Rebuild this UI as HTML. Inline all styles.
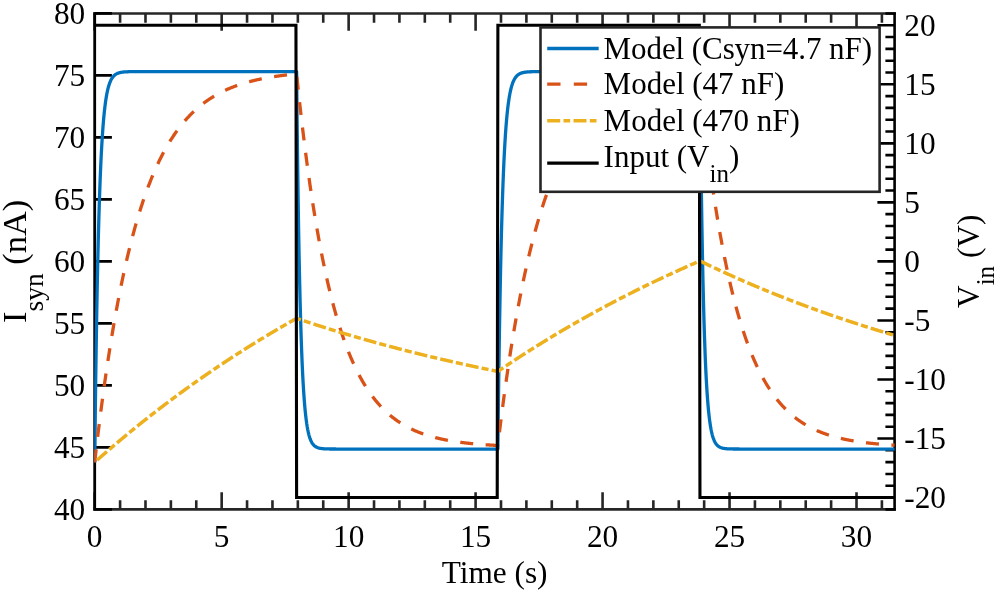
<!DOCTYPE html><html><head><meta charset="utf-8"><title>plot</title><style>html,body{margin:0;padding:0;background:#fff}svg{display:block}text{font-family:"Liberation Serif",serif;fill:#000}</style></head><body>
<svg width="996" height="591" viewBox="0 0 996 591">
<rect width="996" height="591" fill="#fff"/>
<defs><clipPath id="c"><rect x="94.20" y="12.45" width="800.90" height="497.90"/></clipPath></defs>
<g stroke="#262626" stroke-width="2.60" fill="none" stroke-linecap="butt">
<path d="M93.40 509.35 H895.90 M93.40 13.45 H895.90"/>
<path d="M94.70 509.35v-17.20 M94.70 13.45v17.20M120.09 509.35v-9.20 M120.09 13.45v9.20M145.49 509.35v-9.20 M145.49 13.45v9.20M170.88 509.35v-9.20 M170.88 13.45v9.20M196.27 509.35v-9.20 M196.27 13.45v9.20M221.67 509.35v-17.20 M221.67 13.45v17.20M247.06 509.35v-9.20 M247.06 13.45v9.20M272.46 509.35v-9.20 M272.46 13.45v9.20M297.85 509.35v-9.20 M297.85 13.45v9.20M323.24 509.35v-9.20 M323.24 13.45v9.20M348.64 509.35v-17.20 M348.64 13.45v17.20M374.03 509.35v-9.20 M374.03 13.45v9.20M399.42 509.35v-9.20 M399.42 13.45v9.20M424.82 509.35v-9.20 M424.82 13.45v9.20M450.21 509.35v-9.20 M450.21 13.45v9.20M475.60 509.35v-17.20 M475.60 13.45v17.20M501.00 509.35v-9.20 M501.00 13.45v9.20M526.39 509.35v-9.20 M526.39 13.45v9.20M551.79 509.35v-9.20 M551.79 13.45v9.20M577.18 509.35v-9.20 M577.18 13.45v9.20M602.57 509.35v-17.20 M602.57 13.45v17.20M627.97 509.35v-9.20 M627.97 13.45v9.20M653.36 509.35v-9.20 M653.36 13.45v9.20M678.75 509.35v-9.20 M678.75 13.45v9.20M704.15 509.35v-9.20 M704.15 13.45v9.20M729.54 509.35v-17.20 M729.54 13.45v17.20M754.93 509.35v-9.20 M754.93 13.45v9.20M780.33 509.35v-9.20 M780.33 13.45v9.20M805.72 509.35v-9.20 M805.72 13.45v9.20M831.12 509.35v-9.20 M831.12 13.45v9.20M856.51 509.35v-17.20 M856.51 13.45v17.20M881.90 509.35v-9.20 M881.90 13.45v9.20"/>
</g>
<g stroke="#000" stroke-width="2.80" fill="none">
<path d="M94.70 12.15V510.65M94.70 509.35h17.20M94.70 447.36h17.20M94.70 385.38h17.20M94.70 323.39h17.20M94.70 261.40h17.20M94.70 199.41h17.20M94.70 137.42h17.20M94.70 75.44h17.20M94.70 13.45h17.20"/>
</g>
<g stroke="#000" stroke-width="2.60" fill="none">
<path d="M894.60 12.15V510.65M894.60 509.35h-9.20M894.60 497.54h-17.20M894.60 485.74h-9.20M894.60 473.93h-9.20M894.60 462.12h-9.20M894.60 450.31h-9.20M894.60 438.51h-17.20M894.60 426.70h-9.20M894.60 414.89h-9.20M894.60 403.09h-9.20M894.60 391.28h-9.20M894.60 379.47h-17.20M894.60 367.66h-9.20M894.60 355.86h-9.20M894.60 344.05h-9.20M894.60 332.24h-9.20M894.60 320.44h-17.20M894.60 308.63h-9.20M894.60 296.82h-9.20M894.60 285.01h-9.20M894.60 273.21h-9.20M894.60 261.40h-17.20M894.60 249.59h-9.20M894.60 237.79h-9.20M894.60 225.98h-9.20M894.60 214.17h-9.20M894.60 202.36h-17.20M894.60 190.56h-9.20M894.60 178.75h-9.20M894.60 166.94h-9.20M894.60 155.14h-9.20M894.60 143.33h-17.20M894.60 131.52h-9.20M894.60 119.71h-9.20M894.60 107.91h-9.20M894.60 96.10h-9.20M894.60 84.29h-17.20M894.60 72.49h-9.20M894.60 60.68h-9.20M894.60 48.87h-9.20M894.60 37.06h-9.20M894.60 25.26h-17.20M894.60 13.45h-9.20"/>
</g>
<g clip-path="url(#c)" fill="none" stroke-linejoin="round">
<path d="M94.70 462.24L95.21 418.10L95.72 378.94L96.23 344.21L96.73 313.40L97.24 286.08L97.75 261.84L98.26 240.34L98.77 221.28L99.28 204.36L99.79 189.36L100.29 176.05L100.80 164.25L101.31 153.78L101.82 144.49L102.33 136.25L102.84 128.95L103.34 122.47L103.85 116.72L104.36 111.62L104.87 107.10L105.38 103.08L105.89 99.53L106.40 96.37L106.90 93.57L107.41 91.09L107.92 88.88L108.43 86.93L108.94 85.20L109.45 83.66L109.96 82.30L110.46 81.09L110.97 80.01L111.48 79.06L111.99 78.22L112.50 77.47L113.01 76.81L113.51 76.22L114.02 75.70L114.53 75.23L115.04 74.82L115.55 74.46L116.06 74.13L116.57 73.85L117.07 73.59L117.58 73.37L118.09 73.17L118.60 72.99L119.11 72.83L119.62 72.69L120.13 72.57L120.63 72.46L121.14 72.36L121.65 72.27L122.16 72.20L122.67 72.13L123.18 72.07L123.69 72.01L124.19 71.97L124.70 71.92L125.21 71.89L125.72 71.85L126.23 71.82L126.74 71.80L127.24 71.78L127.75 71.76L128.26 71.74L128.77 71.72L129.28 71.71L129.79 71.69L130.30 71.68L130.80 71.67L131.31 71.66L131.82 71.66L132.33 71.65L132.84 71.64L133.35 71.64L133.86 71.63L134.36 71.63L134.87 71.62L135.38 71.62L135.89 71.62L136.40 71.62L136.91 71.61L137.42 71.61L137.92 71.61L138.43 71.61L138.94 71.61L139.45 71.60L139.96 71.60L140.47 71.60L140.97 71.60L141.48 71.60L141.99 71.60L142.50 71.60L143.01 71.60L143.52 71.60L144.03 71.60L144.53 71.60L145.04 71.60L145.55 71.60L146.06 71.60L146.57 71.60L147.08 71.60L147.59 71.60L148.09 71.60L148.60 71.60L149.11 71.60L149.62 71.60L150.13 71.60L150.64 71.60L151.14 71.59L151.65 71.59L152.16 71.59L152.67 71.59L153.18 71.59L153.69 71.59L154.20 71.59L154.70 71.59L155.21 71.59L155.72 71.59L156.23 71.59L156.74 71.59L157.25 71.59L157.76 71.59L158.26 71.59L158.77 71.59L159.28 71.59L159.79 71.59L160.30 71.59L160.81 71.59L161.32 71.59L161.82 71.59L162.33 71.59L162.84 71.59L163.35 71.59L163.86 71.59L164.37 71.59L164.87 71.59L165.38 71.59L165.89 71.59L166.40 71.59L166.91 71.59L167.42 71.59L167.93 71.59L168.43 71.59L168.94 71.59L169.45 71.59L169.96 71.59L170.47 71.59L170.98 71.59L171.49 71.59L171.99 71.59L172.50 71.59L173.01 71.59L173.52 71.59L174.03 71.59L174.54 71.59L175.04 71.59L175.55 71.59L176.06 71.59L176.57 71.59L177.08 71.59L177.59 71.59L178.10 71.59L178.60 71.59L179.11 71.59L179.62 71.59L180.13 71.59L180.64 71.59L181.15 71.59L181.66 71.59L182.16 71.59L182.67 71.59L183.18 71.59L183.69 71.59L184.20 71.59L184.71 71.59L185.22 71.59L185.72 71.59L186.23 71.59L186.74 71.59L187.25 71.59L187.76 71.59L188.27 71.59L188.77 71.59L189.28 71.59L189.79 71.59L190.30 71.59L190.81 71.59L191.32 71.59L191.83 71.59L192.33 71.59L192.84 71.59L193.35 71.59L193.86 71.59L194.37 71.59L194.88 71.59L195.39 71.59L195.89 71.59L196.40 71.59L196.91 71.59L197.42 71.59L197.93 71.59L198.44 71.59L198.95 71.59L199.45 71.59L199.96 71.59L200.47 71.59L200.98 71.59L201.49 71.59L202.00 71.59L202.50 71.59L203.01 71.59L203.52 71.59L204.03 71.59L204.54 71.59L205.05 71.59L205.56 71.59L206.06 71.59L206.57 71.59L207.08 71.59L207.59 71.59L208.10 71.59L208.61 71.59L209.12 71.59L209.62 71.59L210.13 71.59L210.64 71.59L211.15 71.59L211.66 71.59L212.17 71.59L212.67 71.59L213.18 71.59L213.69 71.59L214.20 71.59L214.71 71.59L215.22 71.59L215.73 71.59L216.23 71.59L216.74 71.59L217.25 71.59L217.76 71.59L218.27 71.59L218.78 71.59L219.29 71.59L219.79 71.59L220.30 71.59L220.81 71.59L221.32 71.59L221.83 71.59L222.34 71.59L222.85 71.59L223.35 71.59L223.86 71.59L224.37 71.59L224.88 71.59L225.39 71.59L225.90 71.59L226.40 71.59L226.91 71.59L227.42 71.59L227.93 71.59L228.44 71.59L228.95 71.59L229.46 71.59L229.96 71.59L230.47 71.59L230.98 71.59L231.49 71.59L232.00 71.59L232.51 71.59L233.02 71.59L233.52 71.59L234.03 71.59L234.54 71.59L235.05 71.59L235.56 71.59L236.07 71.59L236.58 71.59L237.08 71.59L237.59 71.59L238.10 71.59L238.61 71.59L239.12 71.59L239.63 71.59L240.13 71.59L240.64 71.59L241.15 71.59L241.66 71.59L242.17 71.59L242.68 71.59L243.19 71.59L243.69 71.59L244.20 71.59L244.71 71.59L245.22 71.59L245.73 71.59L246.24 71.59L246.75 71.59L247.25 71.59L247.76 71.59L248.27 71.59L248.78 71.59L249.29 71.59L249.80 71.59L250.30 71.59L250.81 71.59L251.32 71.59L251.83 71.59L252.34 71.59L252.85 71.59L253.36 71.59L253.86 71.59L254.37 71.59L254.88 71.59L255.39 71.59L255.90 71.59L256.41 71.59L256.92 71.59L257.42 71.59L257.93 71.59L258.44 71.59L258.95 71.59L259.46 71.59L259.97 71.59L260.48 71.59L260.98 71.59L261.49 71.59L262.00 71.59L262.51 71.59L263.02 71.59L263.53 71.59L264.03 71.59L264.54 71.59L265.05 71.59L265.56 71.59L266.07 71.59L266.58 71.59L267.09 71.59L267.59 71.59L268.10 71.59L268.61 71.59L269.12 71.59L269.63 71.59L270.14 71.59L270.65 71.59L271.15 71.59L271.66 71.59L272.17 71.59L272.68 71.59L273.19 71.59L273.70 71.59L274.20 71.59L274.71 71.59L275.22 71.59L275.73 71.59L276.24 71.59L276.75 71.59L277.26 71.59L277.76 71.59L278.27 71.59L278.78 71.59L279.29 71.59L279.80 71.59L280.31 71.59L280.82 71.59L281.32 71.59L281.83 71.59L282.34 71.59L282.85 71.59L283.36 71.59L283.87 71.59L284.38 71.59L284.88 71.59L285.39 71.59L285.90 71.59L286.41 71.59L286.92 71.59L287.43 71.59L287.93 71.59L288.44 71.59L288.95 71.59L289.46 71.59L289.97 71.59L290.48 71.59L290.99 71.59L291.49 71.59L292.00 71.59L292.51 71.59L293.02 71.59L293.53 71.59L294.04 71.59L294.55 71.59L295.05 71.59L295.56 71.59L296.07 71.59L296.58 71.59L296.58 71.59L297.09 119.34L297.60 161.04L298.10 197.47L298.61 229.29L299.12 257.09L299.63 281.37L300.14 302.58L300.65 321.10L301.15 337.28L301.66 351.42L302.17 363.77L302.68 374.55L303.19 383.97L303.70 392.20L304.20 399.39L304.71 405.67L305.22 411.16L305.73 415.95L306.24 420.13L306.74 423.79L307.25 426.98L307.76 429.77L308.27 432.21L308.78 434.34L309.29 436.20L309.79 437.82L310.30 439.24L310.81 440.48L311.32 441.56L311.83 442.51L312.34 443.33L312.84 444.05L313.35 444.68L313.86 445.23L314.37 445.72L314.88 446.14L315.39 446.50L315.89 446.82L316.40 447.10L316.91 447.35L317.42 447.56L317.93 447.75L318.43 447.91L318.94 448.05L319.45 448.18L319.96 448.29L320.47 448.38L320.98 448.46L321.48 448.54L321.99 448.60L322.50 448.65L323.01 448.70L323.52 448.75L324.03 448.78L324.53 448.81L325.04 448.84L325.55 448.87L326.06 448.89L326.57 448.91L327.07 448.92L327.58 448.94L328.09 448.95L328.60 448.96L329.11 448.97L329.62 448.98L330.12 448.99L330.63 448.99L331.14 449.00L331.65 449.00L332.16 449.01L332.67 449.01L333.17 449.01L333.68 449.02L334.19 449.02L334.70 449.02L335.21 449.02L335.72 449.02L336.22 449.03L336.73 449.03L337.24 449.03L337.75 449.03L338.26 449.03L338.76 449.03L339.27 449.03L339.78 449.03L340.29 449.03L340.80 449.03L341.31 449.03L341.81 449.03L342.32 449.03L342.83 449.03L343.34 449.03L343.85 449.03L344.36 449.04L344.86 449.04L345.37 449.04L345.88 449.04L346.39 449.04L346.90 449.04L347.41 449.04L347.91 449.04L348.42 449.04L348.93 449.04L349.44 449.04L349.95 449.04L350.45 449.04L350.96 449.04L351.47 449.04L351.98 449.04L352.49 449.04L353.00 449.04L353.50 449.04L354.01 449.04L354.52 449.04L355.03 449.04L355.54 449.04L356.05 449.04L356.55 449.04L357.06 449.04L357.57 449.04L358.08 449.04L358.59 449.04L359.10 449.04L359.60 449.04L360.11 449.04L360.62 449.04L361.13 449.04L361.64 449.04L362.14 449.04L362.65 449.04L363.16 449.04L363.67 449.04L364.18 449.04L364.69 449.04L365.19 449.04L365.70 449.04L366.21 449.04L366.72 449.04L367.23 449.04L367.74 449.04L368.24 449.04L368.75 449.04L369.26 449.04L369.77 449.04L370.28 449.04L370.79 449.04L371.29 449.04L371.80 449.04L372.31 449.04L372.82 449.04L373.33 449.04L373.83 449.04L374.34 449.04L374.85 449.04L375.36 449.04L375.87 449.04L376.38 449.04L376.88 449.04L377.39 449.04L377.90 449.04L378.41 449.04L378.92 449.04L379.43 449.04L379.93 449.04L380.44 449.04L380.95 449.04L381.46 449.04L381.97 449.04L382.48 449.04L382.98 449.04L383.49 449.04L384.00 449.04L384.51 449.04L385.02 449.04L385.52 449.04L386.03 449.04L386.54 449.04L387.05 449.04L387.56 449.04L388.07 449.04L388.57 449.04L389.08 449.04L389.59 449.04L390.10 449.04L390.61 449.04L391.12 449.04L391.62 449.04L392.13 449.04L392.64 449.04L393.15 449.04L393.66 449.04L394.17 449.04L394.67 449.04L395.18 449.04L395.69 449.04L396.20 449.04L396.71 449.04L397.21 449.04L397.72 449.04L398.23 449.04L398.74 449.04L399.25 449.04L399.76 449.04L400.26 449.04L400.77 449.04L401.28 449.04L401.79 449.04L402.30 449.04L402.81 449.04L403.31 449.04L403.82 449.04L404.33 449.04L404.84 449.04L405.35 449.04L405.85 449.04L406.36 449.04L406.87 449.04L407.38 449.04L407.89 449.04L408.40 449.04L408.90 449.04L409.41 449.04L409.92 449.04L410.43 449.04L410.94 449.04L411.45 449.04L411.95 449.04L412.46 449.04L412.97 449.04L413.48 449.04L413.99 449.04L414.50 449.04L415.00 449.04L415.51 449.04L416.02 449.04L416.53 449.04L417.04 449.04L417.54 449.04L418.05 449.04L418.56 449.04L419.07 449.04L419.58 449.04L420.09 449.04L420.59 449.04L421.10 449.04L421.61 449.04L422.12 449.04L422.63 449.04L423.14 449.04L423.64 449.04L424.15 449.04L424.66 449.04L425.17 449.04L425.68 449.04L426.19 449.04L426.69 449.04L427.20 449.04L427.71 449.04L428.22 449.04L428.73 449.04L429.23 449.04L429.74 449.04L430.25 449.04L430.76 449.04L431.27 449.04L431.78 449.04L432.28 449.04L432.79 449.04L433.30 449.04L433.81 449.04L434.32 449.04L434.83 449.04L435.33 449.04L435.84 449.04L436.35 449.04L436.86 449.04L437.37 449.04L437.88 449.04L438.38 449.04L438.89 449.04L439.40 449.04L439.91 449.04L440.42 449.04L440.92 449.04L441.43 449.04L441.94 449.04L442.45 449.04L442.96 449.04L443.47 449.04L443.97 449.04L444.48 449.04L444.99 449.04L445.50 449.04L446.01 449.04L446.52 449.04L447.02 449.04L447.53 449.04L448.04 449.04L448.55 449.04L449.06 449.04L449.57 449.04L450.07 449.04L450.58 449.04L451.09 449.04L451.60 449.04L452.11 449.04L452.61 449.04L453.12 449.04L453.63 449.04L454.14 449.04L454.65 449.04L455.16 449.04L455.66 449.04L456.17 449.04L456.68 449.04L457.19 449.04L457.70 449.04L458.21 449.04L458.71 449.04L459.22 449.04L459.73 449.04L460.24 449.04L460.75 449.04L461.26 449.04L461.76 449.04L462.27 449.04L462.78 449.04L463.29 449.04L463.80 449.04L464.30 449.04L464.81 449.04L465.32 449.04L465.83 449.04L466.34 449.04L466.85 449.04L467.35 449.04L467.86 449.04L468.37 449.04L468.88 449.04L469.39 449.04L469.90 449.04L470.40 449.04L470.91 449.04L471.42 449.04L471.93 449.04L472.44 449.04L472.94 449.04L473.45 449.04L473.96 449.04L474.47 449.04L474.98 449.04L475.49 449.04L475.99 449.04L476.50 449.04L477.01 449.04L477.52 449.04L478.03 449.04L478.54 449.04L479.04 449.04L479.55 449.04L480.06 449.04L480.57 449.04L481.08 449.04L481.59 449.04L482.09 449.04L482.60 449.04L483.11 449.04L483.62 449.04L484.13 449.04L484.63 449.04L485.14 449.04L485.65 449.04L486.16 449.04L486.67 449.04L487.18 449.04L487.68 449.04L488.19 449.04L488.70 449.04L489.21 449.04L489.72 449.04L490.23 449.04L490.73 449.04L491.24 449.04L491.75 449.04L492.26 449.04L492.77 449.04L493.28 449.04L493.78 449.04L494.29 449.04L494.80 449.04L495.31 449.04L495.82 449.04L496.32 449.04L496.83 449.04L497.34 449.04L497.85 449.04L497.85 449.04L498.36 406.34L498.87 368.48L499.38 334.90L499.89 305.12L500.39 278.71L500.90 255.28L501.41 234.50L501.92 216.08L502.43 199.73L502.94 185.24L503.45 172.39L503.96 160.99L504.47 150.88L504.98 141.91L505.48 133.96L505.99 126.90L506.50 120.65L507.01 115.10L507.52 110.18L508.03 105.81L508.54 101.94L509.05 98.51L509.56 95.47L510.07 92.77L510.58 90.37L511.08 88.25L511.59 86.36L512.10 84.69L512.61 83.21L513.12 81.90L513.63 80.73L514.14 79.70L514.65 78.78L515.16 77.97L515.67 77.25L516.17 76.61L516.68 76.04L517.19 75.54L517.70 75.09L518.21 74.70L518.72 74.35L519.23 74.03L519.74 73.76L520.25 73.51L520.76 73.30L521.26 73.10L521.77 72.93L522.28 72.78L522.79 72.65L523.30 72.53L523.81 72.42L524.32 72.33L524.83 72.25L525.34 72.17L525.85 72.11L526.35 72.05L526.86 72.00L527.37 71.95L527.88 71.91L528.39 71.88L528.90 71.84L529.41 71.82L529.92 71.79L530.43 71.77L530.94 71.75L531.45 71.73L531.95 71.72L532.46 71.70L532.97 71.69L533.48 71.68L533.99 71.67L534.50 71.66L535.01 71.65L535.52 71.65L536.03 71.64L536.54 71.64L537.04 71.63L537.55 71.63L538.06 71.62L538.57 71.62L539.08 71.62L539.59 71.61L540.10 71.61L540.61 71.61L541.12 71.61L541.63 71.61L542.13 71.61L542.64 71.60L543.15 71.60L543.66 71.60L544.17 71.60L544.68 71.60L545.19 71.60L545.70 71.60L546.21 71.60L546.72 71.60L547.22 71.60L547.73 71.60L548.24 71.60L548.75 71.60L549.26 71.60L549.77 71.60L550.28 71.60L550.79 71.60L551.30 71.60L551.81 71.60L552.32 71.60L552.82 71.60L553.33 71.60L553.84 71.59L554.35 71.59L554.86 71.59L555.37 71.59L555.88 71.59L556.39 71.59L556.90 71.59L557.41 71.59L557.91 71.59L558.42 71.59L558.93 71.59L559.44 71.59L559.95 71.59L560.46 71.59L560.97 71.59L561.48 71.59L561.99 71.59L562.50 71.59L563.00 71.59L563.51 71.59L564.02 71.59L564.53 71.59L565.04 71.59L565.55 71.59L566.06 71.59L566.57 71.59L567.08 71.59L567.59 71.59L568.09 71.59L568.60 71.59L569.11 71.59L569.62 71.59L570.13 71.59L570.64 71.59L571.15 71.59L571.66 71.59L572.17 71.59L572.68 71.59L573.19 71.59L573.69 71.59L574.20 71.59L574.71 71.59L575.22 71.59L575.73 71.59L576.24 71.59L576.75 71.59L577.26 71.59L577.77 71.59L578.28 71.59L578.78 71.59L579.29 71.59L579.80 71.59L580.31 71.59L580.82 71.59L581.33 71.59L581.84 71.59L582.35 71.59L582.86 71.59L583.37 71.59L583.87 71.59L584.38 71.59L584.89 71.59L585.40 71.59L585.91 71.59L586.42 71.59L586.93 71.59L587.44 71.59L587.95 71.59L588.46 71.59L588.96 71.59L589.47 71.59L589.98 71.59L590.49 71.59L591.00 71.59L591.51 71.59L592.02 71.59L592.53 71.59L593.04 71.59L593.55 71.59L594.06 71.59L594.56 71.59L595.07 71.59L595.58 71.59L596.09 71.59L596.60 71.59L597.11 71.59L597.62 71.59L598.13 71.59L598.64 71.59L599.15 71.59L599.65 71.59L600.16 71.59L600.67 71.59L601.18 71.59L601.69 71.59L602.20 71.59L602.71 71.59L603.22 71.59L603.73 71.59L604.24 71.59L604.74 71.59L605.25 71.59L605.76 71.59L606.27 71.59L606.78 71.59L607.29 71.59L607.80 71.59L608.31 71.59L608.82 71.59L609.33 71.59L609.83 71.59L610.34 71.59L610.85 71.59L611.36 71.59L611.87 71.59L612.38 71.59L612.89 71.59L613.40 71.59L613.91 71.59L614.42 71.59L614.93 71.59L615.43 71.59L615.94 71.59L616.45 71.59L616.96 71.59L617.47 71.59L617.98 71.59L618.49 71.59L619.00 71.59L619.51 71.59L620.02 71.59L620.52 71.59L621.03 71.59L621.54 71.59L622.05 71.59L622.56 71.59L623.07 71.59L623.58 71.59L624.09 71.59L624.60 71.59L625.11 71.59L625.61 71.59L626.12 71.59L626.63 71.59L627.14 71.59L627.65 71.59L628.16 71.59L628.67 71.59L629.18 71.59L629.69 71.59L630.20 71.59L630.70 71.59L631.21 71.59L631.72 71.59L632.23 71.59L632.74 71.59L633.25 71.59L633.76 71.59L634.27 71.59L634.78 71.59L635.29 71.59L635.80 71.59L636.30 71.59L636.81 71.59L637.32 71.59L637.83 71.59L638.34 71.59L638.85 71.59L639.36 71.59L639.87 71.59L640.38 71.59L640.89 71.59L641.39 71.59L641.90 71.59L642.41 71.59L642.92 71.59L643.43 71.59L643.94 71.59L644.45 71.59L644.96 71.59L645.47 71.59L645.98 71.59L646.48 71.59L646.99 71.59L647.50 71.59L648.01 71.59L648.52 71.59L649.03 71.59L649.54 71.59L650.05 71.59L650.56 71.59L651.07 71.59L651.57 71.59L652.08 71.59L652.59 71.59L653.10 71.59L653.61 71.59L654.12 71.59L654.63 71.59L655.14 71.59L655.65 71.59L656.16 71.59L656.67 71.59L657.17 71.59L657.68 71.59L658.19 71.59L658.70 71.59L659.21 71.59L659.72 71.59L660.23 71.59L660.74 71.59L661.25 71.59L661.76 71.59L662.26 71.59L662.77 71.59L663.28 71.59L663.79 71.59L664.30 71.59L664.81 71.59L665.32 71.59L665.83 71.59L666.34 71.59L666.85 71.59L667.35 71.59L667.86 71.59L668.37 71.59L668.88 71.59L669.39 71.59L669.90 71.59L670.41 71.59L670.92 71.59L671.43 71.59L671.94 71.59L672.44 71.59L672.95 71.59L673.46 71.59L673.97 71.59L674.48 71.59L674.99 71.59L675.50 71.59L676.01 71.59L676.52 71.59L677.03 71.59L677.54 71.59L678.04 71.59L678.55 71.59L679.06 71.59L679.57 71.59L680.08 71.59L680.59 71.59L681.10 71.59L681.61 71.59L682.12 71.59L682.63 71.59L683.13 71.59L683.64 71.59L684.15 71.59L684.66 71.59L685.17 71.59L685.68 71.59L686.19 71.59L686.70 71.59L687.21 71.59L687.72 71.59L688.22 71.59L688.73 71.59L689.24 71.59L689.75 71.59L690.26 71.59L690.77 71.59L691.28 71.59L691.79 71.59L692.30 71.59L692.81 71.59L693.31 71.59L693.82 71.59L694.33 71.59L694.84 71.59L695.35 71.59L695.86 71.59L696.37 71.59L696.88 71.59L697.39 71.59L697.90 71.59L698.41 71.59L698.91 71.59L699.42 71.59L699.93 71.59L699.93 71.59L700.44 119.34L700.95 161.04L701.46 197.47L701.97 229.29L702.47 257.09L702.98 281.37L703.49 302.58L704.00 321.11L704.51 337.29L705.01 351.42L705.52 363.77L706.03 374.56L706.54 383.98L707.05 392.21L707.56 399.40L708.06 405.68L708.57 411.16L709.08 415.95L709.59 420.14L710.10 423.79L710.61 426.99L711.11 429.77L711.62 432.21L712.13 434.34L712.64 436.20L713.15 437.82L713.66 439.24L714.16 440.48L714.67 441.56L715.18 442.51L715.69 443.33L716.20 444.05L716.71 444.68L717.21 445.24L717.72 445.72L718.23 446.14L718.74 446.50L719.25 446.82L719.75 447.10L720.26 447.35L720.77 447.56L721.28 447.75L721.79 447.91L722.30 448.05L722.80 448.18L723.31 448.29L723.82 448.38L724.33 448.46L724.84 448.54L725.35 448.60L725.85 448.65L726.36 448.70L726.87 448.75L727.38 448.78L727.89 448.81L728.40 448.84L728.90 448.87L729.41 448.89L729.92 448.91L730.43 448.92L730.94 448.94L731.45 448.95L731.95 448.96L732.46 448.97L732.97 448.98L733.48 448.99L733.99 448.99L734.49 449.00L735.00 449.00L735.51 449.01L736.02 449.01L736.53 449.01L737.04 449.02L737.54 449.02L738.05 449.02L738.56 449.02L739.07 449.02L739.58 449.03L740.09 449.03L740.59 449.03L741.10 449.03L741.61 449.03L742.12 449.03L742.63 449.03L743.14 449.03L743.64 449.03L744.15 449.03L744.66 449.03L745.17 449.03L745.68 449.03L746.18 449.03L746.69 449.03L747.20 449.03L747.71 449.04L748.22 449.04L748.73 449.04L749.23 449.04L749.74 449.04L750.25 449.04L750.76 449.04L751.27 449.04L751.78 449.04L752.28 449.04L752.79 449.04L753.30 449.04L753.81 449.04L754.32 449.04L754.83 449.04L755.33 449.04L755.84 449.04L756.35 449.04L756.86 449.04L757.37 449.04L757.88 449.04L758.38 449.04L758.89 449.04L759.40 449.04L759.91 449.04L760.42 449.04L760.92 449.04L761.43 449.04L761.94 449.04L762.45 449.04L762.96 449.04L763.47 449.04L763.97 449.04L764.48 449.04L764.99 449.04L765.50 449.04L766.01 449.04L766.52 449.04L767.02 449.04L767.53 449.04L768.04 449.04L768.55 449.04L769.06 449.04L769.57 449.04L770.07 449.04L770.58 449.04L771.09 449.04L771.60 449.04L772.11 449.04L772.62 449.04L773.12 449.04L773.63 449.04L774.14 449.04L774.65 449.04L775.16 449.04L775.66 449.04L776.17 449.04L776.68 449.04L777.19 449.04L777.70 449.04L778.21 449.04L778.71 449.04L779.22 449.04L779.73 449.04L780.24 449.04L780.75 449.04L781.26 449.04L781.76 449.04L782.27 449.04L782.78 449.04L783.29 449.04L783.80 449.04L784.31 449.04L784.81 449.04L785.32 449.04L785.83 449.04L786.34 449.04L786.85 449.04L787.35 449.04L787.86 449.04L788.37 449.04L788.88 449.04L789.39 449.04L789.90 449.04L790.40 449.04L790.91 449.04L791.42 449.04L791.93 449.04L792.44 449.04L792.95 449.04L793.45 449.04L793.96 449.04L794.47 449.04L794.98 449.04L795.49 449.04L796.00 449.04L796.50 449.04L797.01 449.04L797.52 449.04L798.03 449.04L798.54 449.04L799.05 449.04L799.55 449.04L800.06 449.04L800.57 449.04L801.08 449.04L801.59 449.04L802.09 449.04L802.60 449.04L803.11 449.04L803.62 449.04L804.13 449.04L804.64 449.04L805.14 449.04L805.65 449.04L806.16 449.04L806.67 449.04L807.18 449.04L807.69 449.04L808.19 449.04L808.70 449.04L809.21 449.04L809.72 449.04L810.23 449.04L810.74 449.04L811.24 449.04L811.75 449.04L812.26 449.04L812.77 449.04L813.28 449.04L813.78 449.04L814.29 449.04L814.80 449.04L815.31 449.04L815.82 449.04L816.33 449.04L816.83 449.04L817.34 449.04L817.85 449.04L818.36 449.04L818.87 449.04L819.38 449.04L819.88 449.04L820.39 449.04L820.90 449.04L821.41 449.04L821.92 449.04L822.43 449.04L822.93 449.04L823.44 449.04L823.95 449.04L824.46 449.04L824.97 449.04L825.48 449.04L825.98 449.04L826.49 449.04L827.00 449.04L827.51 449.04L828.02 449.04L828.52 449.04L829.03 449.04L829.54 449.04L830.05 449.04L830.56 449.04L831.07 449.04L831.57 449.04L832.08 449.04L832.59 449.04L833.10 449.04L833.61 449.04L834.12 449.04L834.62 449.04L835.13 449.04L835.64 449.04L836.15 449.04L836.66 449.04L837.17 449.04L837.67 449.04L838.18 449.04L838.69 449.04L839.20 449.04L839.71 449.04L840.22 449.04L840.72 449.04L841.23 449.04L841.74 449.04L842.25 449.04L842.76 449.04L843.26 449.04L843.77 449.04L844.28 449.04L844.79 449.04L845.30 449.04L845.81 449.04L846.31 449.04L846.82 449.04L847.33 449.04L847.84 449.04L848.35 449.04L848.86 449.04L849.36 449.04L849.87 449.04L850.38 449.04L850.89 449.04L851.40 449.04L851.91 449.04L852.41 449.04L852.92 449.04L853.43 449.04L853.94 449.04L854.45 449.04L854.95 449.04L855.46 449.04L855.97 449.04L856.48 449.04L856.99 449.04L857.50 449.04L858.00 449.04L858.51 449.04L859.02 449.04L859.53 449.04L860.04 449.04L860.55 449.04L861.05 449.04L861.56 449.04L862.07 449.04L862.58 449.04L863.09 449.04L863.60 449.04L864.10 449.04L864.61 449.04L865.12 449.04L865.63 449.04L866.14 449.04L866.65 449.04L867.15 449.04L867.66 449.04L868.17 449.04L868.68 449.04L869.19 449.04L869.69 449.04L870.20 449.04L870.71 449.04L871.22 449.04L871.73 449.04L872.24 449.04L872.74 449.04L873.25 449.04L873.76 449.04L874.27 449.04L874.78 449.04L875.29 449.04L875.79 449.04L876.30 449.04L876.81 449.04L877.32 449.04L877.83 449.04L878.34 449.04L878.84 449.04L879.35 449.04L879.86 449.04L880.37 449.04L880.88 449.04L881.38 449.04L881.89 449.04L882.40 449.04L882.91 449.04L883.42 449.04L883.93 449.04L884.43 449.04L884.94 449.04L885.45 449.04L885.96 449.04L886.47 449.04L886.98 449.04L887.48 449.04L887.99 449.04L888.50 449.04L889.01 449.04L889.52 449.04L890.03 449.04L890.53 449.04L891.04 449.04L891.55 449.04L892.06 449.04L892.57 449.04L893.08 449.04L893.58 449.04L894.09 449.04L894.60 449.04" stroke="#0072BD" stroke-width="3.30"/>
<path d="M94.70 462.24L95.21 457.75L95.72 453.31L96.23 448.92L96.73 444.59L97.24 440.30L97.75 436.06L98.26 431.87L98.77 427.73L99.28 423.63L99.79 419.58L100.29 415.58L100.80 411.63L101.31 407.71L101.82 403.85L102.33 400.03L102.84 396.25L103.34 392.51L103.85 388.82L104.36 385.17L104.87 381.56L105.38 378.00L105.89 374.47L106.40 370.99L106.90 367.54L107.41 364.13L107.92 360.77L108.43 357.44L108.94 354.15L109.45 350.89L109.96 347.68L110.46 344.50L110.97 341.36L111.48 338.25L111.99 335.18L112.50 332.14L113.01 329.14L113.51 326.17L114.02 323.24L114.53 320.34L115.04 317.48L115.55 314.64L116.06 311.84L116.57 309.07L117.07 306.34L117.58 303.63L118.09 300.95L118.60 298.31L119.11 295.70L119.62 293.11L120.13 290.56L120.63 288.03L121.14 285.54L121.65 283.07L122.16 280.63L122.67 278.22L123.18 275.83L123.69 273.47L124.19 271.14L124.70 268.84L125.21 266.56L125.72 264.31L126.23 262.09L126.74 259.89L127.24 257.71L127.75 255.56L128.26 253.44L128.77 251.34L129.28 249.26L129.79 247.21L130.30 245.18L130.80 243.17L131.31 241.19L131.82 239.23L132.33 237.29L132.84 235.38L133.35 233.48L133.86 231.61L134.36 229.76L134.87 227.93L135.38 226.12L135.89 224.33L136.40 222.57L136.91 220.82L137.42 219.09L137.92 217.38L138.43 215.69L138.94 214.03L139.45 212.38L139.96 210.75L140.47 209.13L140.97 207.54L141.48 205.96L141.99 204.41L142.50 202.87L143.01 201.35L143.52 199.84L144.03 198.35L144.53 196.88L145.04 195.43L145.55 193.99L146.06 192.57L146.57 191.17L147.08 189.78L147.59 188.41L148.09 187.05L148.60 185.71L149.11 184.38L149.62 183.07L150.13 181.78L150.64 180.50L151.14 179.23L151.65 177.98L152.16 176.74L152.67 175.52L153.18 174.31L153.69 173.12L154.20 171.93L154.70 170.77L155.21 169.61L155.72 168.47L156.23 167.34L156.74 166.23L157.25 165.12L157.76 164.03L158.26 162.96L158.77 161.89L159.28 160.84L159.79 159.80L160.30 158.77L160.81 157.75L161.32 156.74L161.82 155.75L162.33 154.77L162.84 153.80L163.35 152.83L163.86 151.89L164.37 150.95L164.87 150.02L165.38 149.10L165.89 148.19L166.40 147.30L166.91 146.41L167.42 145.54L167.93 144.67L168.43 143.81L168.94 142.97L169.45 142.13L169.96 141.30L170.47 140.49L170.98 139.68L171.49 138.88L171.99 138.09L172.50 137.31L173.01 136.54L173.52 135.77L174.03 135.02L174.54 134.27L175.04 133.54L175.55 132.81L176.06 132.09L176.57 131.38L177.08 130.67L177.59 129.98L178.10 129.29L178.60 128.61L179.11 127.94L179.62 127.27L180.13 126.61L180.64 125.97L181.15 125.32L181.66 124.69L182.16 124.06L182.67 123.44L183.18 122.83L183.69 122.22L184.20 121.62L184.71 121.03L185.22 120.44L185.72 119.87L186.23 119.29L186.74 118.73L187.25 118.17L187.76 117.62L188.27 117.07L188.77 116.53L189.28 116.00L189.79 115.47L190.30 114.95L190.81 114.43L191.32 113.92L191.83 113.42L192.33 112.92L192.84 112.42L193.35 111.94L193.86 111.46L194.37 110.98L194.88 110.51L195.39 110.04L195.89 109.58L196.40 109.13L196.91 108.68L197.42 108.24L197.93 107.80L198.44 107.36L198.95 106.93L199.45 106.51L199.96 106.09L200.47 105.68L200.98 105.27L201.49 104.86L202.00 104.46L202.50 104.06L203.01 103.67L203.52 103.29L204.03 102.90L204.54 102.53L205.05 102.15L205.56 101.78L206.06 101.42L206.57 101.06L207.08 100.70L207.59 100.35L208.10 100.00L208.61 99.65L209.12 99.31L209.62 98.97L210.13 98.64L210.64 98.31L211.15 97.99L211.66 97.66L212.17 97.35L212.67 97.03L213.18 96.72L213.69 96.41L214.20 96.11L214.71 95.81L215.22 95.51L215.73 95.22L216.23 94.93L216.74 94.64L217.25 94.36L217.76 94.08L218.27 93.80L218.78 93.53L219.29 93.26L219.79 92.99L220.30 92.72L220.81 92.46L221.32 92.20L221.83 91.95L222.34 91.69L222.85 91.44L223.35 91.20L223.86 90.95L224.37 90.71L224.88 90.47L225.39 90.24L225.90 90.00L226.40 89.77L226.91 89.55L227.42 89.32L227.93 89.10L228.44 88.88L228.95 88.66L229.46 88.44L229.96 88.23L230.47 88.02L230.98 87.81L231.49 87.61L232.00 87.41L232.51 87.20L233.02 87.01L233.52 86.81L234.03 86.62L234.54 86.42L235.05 86.23L235.56 86.05L236.07 85.86L236.58 85.68L237.08 85.50L237.59 85.32L238.10 85.14L238.61 84.97L239.12 84.79L239.63 84.62L240.13 84.45L240.64 84.29L241.15 84.12L241.66 83.96L242.17 83.80L242.68 83.64L243.19 83.48L243.69 83.32L244.20 83.17L244.71 83.02L245.22 82.87L245.73 82.72L246.24 82.57L246.75 82.43L247.25 82.28L247.76 82.14L248.27 82.00L248.78 81.86L249.29 81.72L249.80 81.59L250.30 81.45L250.81 81.32L251.32 81.19L251.83 81.06L252.34 80.93L252.85 80.81L253.36 80.68L253.86 80.56L254.37 80.43L254.88 80.31L255.39 80.19L255.90 80.07L256.41 79.96L256.92 79.84L257.42 79.73L257.93 79.62L258.44 79.50L258.95 79.39L259.46 79.28L259.97 79.18L260.48 79.07L260.98 78.96L261.49 78.86L262.00 78.76L262.51 78.66L263.02 78.55L263.53 78.45L264.03 78.36L264.54 78.26L265.05 78.16L265.56 78.07L266.07 77.97L266.58 77.88L267.09 77.79L267.59 77.70L268.10 77.61L268.61 77.52L269.12 77.43L269.63 77.35L270.14 77.26L270.65 77.18L271.15 77.09L271.66 77.01L272.17 76.93L272.68 76.85L273.19 76.77L273.70 76.69L274.20 76.61L274.71 76.53L275.22 76.46L275.73 76.38L276.24 76.31L276.75 76.23L277.26 76.16L277.76 76.09L278.27 76.02L278.78 75.95L279.29 75.88L279.80 75.81L280.31 75.74L280.82 75.67L281.32 75.60L281.83 75.54L282.34 75.47L282.85 75.41L283.36 75.35L283.87 75.28L284.38 75.22L284.88 75.16L285.39 75.10L285.90 75.04L286.41 74.98L286.92 74.92L287.43 74.86L287.93 74.81L288.44 74.75L288.95 74.69L289.46 74.64L289.97 74.58L290.48 74.53L290.99 74.48L291.49 74.42L292.00 74.37L292.51 74.32L293.02 74.27L293.53 74.22L294.04 74.17L294.55 74.12L295.05 74.07L295.56 74.02L296.07 73.97L296.58 73.93L296.58 73.93L297.09 78.88L297.60 83.76L298.10 88.58L298.61 93.34L299.12 98.03L299.63 102.66L300.14 107.23L300.65 111.74L301.15 116.19L301.66 120.57L302.17 124.91L302.68 129.18L303.19 133.40L303.70 137.56L304.20 141.67L304.71 145.72L305.22 149.72L305.73 153.66L306.24 157.55L306.74 161.40L307.25 165.19L307.76 168.93L308.27 172.62L308.78 176.26L309.29 179.85L309.79 183.40L310.30 186.90L310.81 190.35L311.32 193.76L311.83 197.12L312.34 200.43L312.84 203.71L313.35 206.94L313.86 210.12L314.37 213.27L314.88 216.37L315.39 219.43L315.89 222.45L316.40 225.43L316.91 228.38L317.42 231.28L317.93 234.14L318.43 236.97L318.94 239.76L319.45 242.51L319.96 245.23L320.47 247.90L320.98 250.55L321.48 253.16L321.99 255.73L322.50 258.27L323.01 260.78L323.52 263.25L324.03 265.69L324.53 268.10L325.04 270.48L325.55 272.82L326.06 275.13L326.57 277.42L327.07 279.67L327.58 281.89L328.09 284.08L328.60 286.25L329.11 288.38L329.62 290.49L330.12 292.57L330.63 294.62L331.14 296.65L331.65 298.65L332.16 300.62L332.67 302.56L333.17 304.48L333.68 306.37L334.19 308.24L334.70 310.09L335.21 311.91L335.72 313.70L336.22 315.47L336.73 317.22L337.24 318.95L337.75 320.65L338.26 322.33L338.76 323.99L339.27 325.62L339.78 327.24L340.29 328.83L340.80 330.40L341.31 331.95L341.81 333.48L342.32 334.99L342.83 336.48L343.34 337.95L343.85 339.40L344.36 340.83L344.86 342.24L345.37 343.63L345.88 345.01L346.39 346.37L346.90 347.70L347.41 349.03L347.91 350.33L348.42 351.61L348.93 352.88L349.44 354.14L349.95 355.37L350.45 356.59L350.96 357.79L351.47 358.98L351.98 360.15L352.49 361.31L353.00 362.45L353.50 363.58L354.01 364.69L354.52 365.78L355.03 366.86L355.54 367.93L356.05 368.98L356.55 370.02L357.06 371.05L357.57 372.06L358.08 373.06L358.59 374.04L359.10 375.01L359.60 375.97L360.11 376.92L360.62 377.85L361.13 378.77L361.64 379.68L362.14 380.58L362.65 381.47L363.16 382.34L363.67 383.20L364.18 384.05L364.69 384.89L365.19 385.72L365.70 386.54L366.21 387.34L366.72 388.14L367.23 388.92L367.74 389.70L368.24 390.46L368.75 391.22L369.26 391.96L369.77 392.69L370.28 393.42L370.79 394.13L371.29 394.84L371.80 395.54L372.31 396.22L372.82 396.90L373.33 397.57L373.83 398.23L374.34 398.88L374.85 399.52L375.36 400.16L375.87 400.78L376.38 401.40L376.88 402.01L377.39 402.61L377.90 403.20L378.41 403.79L378.92 404.37L379.43 404.94L379.93 405.50L380.44 406.05L380.95 406.60L381.46 407.14L381.97 407.67L382.48 408.20L382.98 408.72L383.49 409.23L384.00 409.74L384.51 410.24L385.02 410.73L385.52 411.21L386.03 411.69L386.54 412.17L387.05 412.63L387.56 413.09L388.07 413.55L388.57 413.99L389.08 414.44L389.59 414.87L390.10 415.30L390.61 415.73L391.12 416.15L391.62 416.56L392.13 416.97L392.64 417.37L393.15 417.77L393.66 418.16L394.17 418.55L394.67 418.93L395.18 419.31L395.69 419.68L396.20 420.05L396.71 420.41L397.21 420.77L397.72 421.12L398.23 421.47L398.74 421.81L399.25 422.15L399.76 422.48L400.26 422.81L400.77 423.14L401.28 423.46L401.79 423.78L402.30 424.09L402.81 424.40L403.31 424.70L403.82 425.00L404.33 425.30L404.84 425.59L405.35 425.88L405.85 426.16L406.36 426.45L406.87 426.72L407.38 427.00L407.89 427.27L408.40 427.53L408.90 427.80L409.41 428.05L409.92 428.31L410.43 428.56L410.94 428.81L411.45 429.06L411.95 429.30L412.46 429.54L412.97 429.78L413.48 430.01L413.99 430.24L414.50 430.47L415.00 430.69L415.51 430.91L416.02 431.13L416.53 431.34L417.04 431.56L417.54 431.77L418.05 431.97L418.56 432.18L419.07 432.38L419.58 432.58L420.09 432.77L420.59 432.97L421.10 433.16L421.61 433.35L422.12 433.53L422.63 433.71L423.14 433.90L423.64 434.07L424.15 434.25L424.66 434.42L425.17 434.60L425.68 434.76L426.19 434.93L426.69 435.10L427.20 435.26L427.71 435.42L428.22 435.58L428.73 435.73L429.23 435.89L429.74 436.04L430.25 436.19L430.76 436.34L431.27 436.48L431.78 436.63L432.28 436.77L432.79 436.91L433.30 437.05L433.81 437.19L434.32 437.32L434.83 437.45L435.33 437.59L435.84 437.72L436.35 437.84L436.86 437.97L437.37 438.09L437.88 438.22L438.38 438.34L438.89 438.46L439.40 438.58L439.91 438.69L440.42 438.81L440.92 438.92L441.43 439.03L441.94 439.14L442.45 439.25L442.96 439.36L443.47 439.47L443.97 439.57L444.48 439.67L444.99 439.78L445.50 439.88L446.01 439.98L446.52 440.07L447.02 440.17L447.53 440.26L448.04 440.36L448.55 440.45L449.06 440.54L449.57 440.63L450.07 440.72L450.58 440.81L451.09 440.90L451.60 440.98L452.11 441.07L452.61 441.15L453.12 441.23L453.63 441.32L454.14 441.40L454.65 441.47L455.16 441.55L455.66 441.63L456.17 441.71L456.68 441.78L457.19 441.85L457.70 441.93L458.21 442.00L458.71 442.07L459.22 442.14L459.73 442.21L460.24 442.28L460.75 442.35L461.26 442.41L461.76 442.48L462.27 442.54L462.78 442.61L463.29 442.67L463.80 442.73L464.30 442.79L464.81 442.85L465.32 442.91L465.83 442.97L466.34 443.03L466.85 443.09L467.35 443.14L467.86 443.20L468.37 443.26L468.88 443.31L469.39 443.36L469.90 443.42L470.40 443.47L470.91 443.52L471.42 443.57L471.93 443.62L472.44 443.67L472.94 443.72L473.45 443.77L473.96 443.82L474.47 443.86L474.98 443.91L475.49 443.96L475.99 444.00L476.50 444.05L477.01 444.09L477.52 444.13L478.03 444.18L478.54 444.22L479.04 444.26L479.55 444.30L480.06 444.34L480.57 444.38L481.08 444.42L481.59 444.46L482.09 444.50L482.60 444.54L483.11 444.57L483.62 444.61L484.13 444.65L484.63 444.68L485.14 444.72L485.65 444.75L486.16 444.79L486.67 444.82L487.18 444.86L487.68 444.89L488.19 444.92L488.70 444.95L489.21 444.99L489.72 445.02L490.23 445.05L490.73 445.08L491.24 445.11L491.75 445.14L492.26 445.17L492.77 445.20L493.28 445.23L493.78 445.26L494.29 445.28L494.80 445.31L495.31 445.34L495.82 445.36L496.32 445.39L496.83 445.42L497.34 445.44L497.85 445.47L497.85 445.47L498.36 441.17L498.87 436.92L499.38 432.72L499.88 428.56L500.39 424.46L500.90 420.40L501.41 416.38L501.92 412.42L502.43 408.50L502.94 404.62L503.45 400.79L503.95 397.00L504.46 393.26L504.97 389.55L505.48 385.89L505.99 382.28L506.50 378.70L507.01 375.16L507.52 371.67L508.02 368.21L508.53 364.80L509.04 361.42L509.55 358.09L510.06 354.79L510.57 351.52L511.08 348.30L511.58 345.11L512.09 341.96L512.60 338.85L513.11 335.77L513.62 332.72L514.13 329.72L514.64 326.74L515.15 323.80L515.65 320.89L516.16 318.02L516.67 315.18L517.18 312.37L517.69 309.59L518.20 306.85L518.71 304.14L519.22 301.46L519.72 298.80L520.23 296.18L520.74 293.59L521.25 291.03L521.76 288.50L522.27 286.00L522.78 283.52L523.29 281.08L523.79 278.66L524.30 276.27L524.81 273.91L525.32 271.57L525.83 269.26L526.34 266.98L526.85 264.72L527.35 262.49L527.86 260.29L528.37 258.11L528.88 255.95L529.39 253.82L529.90 251.72L530.41 249.63L530.92 247.58L531.42 245.54L531.93 243.53L532.44 241.54L532.95 239.58L533.46 237.63L533.97 235.71L534.48 233.82L534.99 231.94L535.49 230.08L536.00 228.25L536.51 226.44L537.02 224.64L537.53 222.87L538.04 221.12L538.55 219.39L539.06 217.68L539.56 215.98L540.07 214.31L540.58 212.66L541.09 211.02L541.60 209.41L542.11 207.81L542.62 206.23L543.12 204.67L543.63 203.13L544.14 201.60L544.65 200.09L545.16 198.60L545.67 197.13L546.18 195.67L546.69 194.23L547.19 192.81L547.70 191.40L548.21 190.01L548.72 188.63L549.23 187.27L549.74 185.93L550.25 184.60L550.76 183.29L551.26 181.99L551.77 180.71L552.28 179.44L552.79 178.18L553.30 176.94L553.81 175.72L554.32 174.51L554.82 173.31L555.33 172.12L555.84 170.95L556.35 169.80L556.86 168.65L557.37 167.52L557.88 166.40L558.39 165.30L558.89 164.20L559.40 163.12L559.91 162.06L560.42 161.00L560.93 159.96L561.44 158.93L561.95 157.91L562.46 156.90L562.96 155.90L563.47 154.92L563.98 153.94L564.49 152.98L565.00 152.03L565.51 151.09L566.02 150.16L566.53 149.24L567.03 148.33L567.54 147.43L568.05 146.55L568.56 145.67L569.07 144.80L569.58 143.94L570.09 143.09L570.59 142.26L571.10 141.43L571.61 140.61L572.12 139.80L572.63 139.00L573.14 138.21L573.65 137.42L574.16 136.65L574.66 135.89L575.17 135.13L575.68 134.38L576.19 133.64L576.70 132.91L577.21 132.19L577.72 131.48L578.23 130.77L578.73 130.08L579.24 129.39L579.75 128.71L580.26 128.03L580.77 127.37L581.28 126.71L581.79 126.06L582.30 125.41L582.80 124.78L583.31 124.15L583.82 123.53L584.33 122.91L584.84 122.31L585.35 121.71L585.86 121.11L586.36 120.52L586.87 119.94L587.38 119.37L587.89 118.80L588.40 118.24L588.91 117.69L589.42 117.14L589.93 116.60L590.43 116.07L590.94 115.54L591.45 115.01L591.96 114.50L592.47 113.99L592.98 113.48L593.49 112.98L594.00 112.49L594.50 112.00L595.01 111.52L595.52 111.04L596.03 110.57L596.54 110.10L597.05 109.64L597.56 109.19L598.07 108.74L598.57 108.29L599.08 107.85L599.59 107.42L600.10 106.99L600.61 106.56L601.12 106.14L601.63 105.73L602.13 105.32L602.64 104.91L603.15 104.51L603.66 104.11L604.17 103.72L604.68 103.33L605.19 102.95L605.70 102.57L606.20 102.20L606.71 101.83L607.22 101.46L607.73 101.10L608.24 100.74L608.75 100.39L609.26 100.04L609.77 99.69L610.27 99.35L610.78 99.01L611.29 98.68L611.80 98.35L612.31 98.02L612.82 97.70L613.33 97.38L613.84 97.07L614.34 96.76L614.85 96.45L615.36 96.14L615.87 95.84L616.38 95.55L616.89 95.25L617.40 94.96L617.90 94.67L618.41 94.39L618.92 94.11L619.43 93.83L619.94 93.56L620.45 93.29L620.96 93.02L621.47 92.75L621.97 92.49L622.48 92.23L622.99 91.97L623.50 91.72L624.01 91.47L624.52 91.22L625.03 90.98L625.54 90.74L626.04 90.50L626.55 90.26L627.06 90.03L627.57 89.80L628.08 89.57L628.59 89.34L629.10 89.12L629.61 88.90L630.11 88.68L630.62 88.47L631.13 88.25L631.64 88.04L632.15 87.84L632.66 87.63L633.17 87.43L633.67 87.22L634.18 87.03L634.69 86.83L635.20 86.64L635.71 86.44L636.22 86.25L636.73 86.07L637.24 85.88L637.74 85.70L638.25 85.52L638.76 85.34L639.27 85.16L639.78 84.98L640.29 84.81L640.80 84.64L641.31 84.47L641.81 84.30L642.32 84.14L642.83 83.97L643.34 83.81L643.85 83.65L644.36 83.50L644.87 83.34L645.38 83.18L645.88 83.03L646.39 82.88L646.90 82.73L647.41 82.59L647.92 82.44L648.43 82.30L648.94 82.15L649.44 82.01L649.95 81.87L650.46 81.74L650.97 81.60L651.48 81.47L651.99 81.33L652.50 81.20L653.01 81.07L653.51 80.94L654.02 80.82L654.53 80.69L655.04 80.57L655.55 80.44L656.06 80.32L656.57 80.20L657.08 80.08L657.58 79.97L658.09 79.85L658.60 79.74L659.11 79.62L659.62 79.51L660.13 79.40L660.64 79.29L661.15 79.18L661.65 79.08L662.16 78.97L662.67 78.87L663.18 78.77L663.69 78.66L664.20 78.56L664.71 78.46L665.21 78.36L665.72 78.27L666.23 78.17L666.74 78.08L667.25 77.98L667.76 77.89L668.27 77.80L668.78 77.71L669.28 77.62L669.79 77.53L670.30 77.44L670.81 77.35L671.32 77.27L671.83 77.18L672.34 77.10L672.85 77.02L673.35 76.93L673.86 76.85L674.37 76.77L674.88 76.69L675.39 76.61L675.90 76.54L676.41 76.46L676.92 76.39L677.42 76.31L677.93 76.24L678.44 76.16L678.95 76.09L679.46 76.02L679.97 75.95L680.48 75.88L680.98 75.81L681.49 75.74L682.00 75.68L682.51 75.61L683.02 75.54L683.53 75.48L684.04 75.41L684.55 75.35L685.05 75.29L685.56 75.23L686.07 75.16L686.58 75.10L687.09 75.04L687.60 74.98L688.11 74.93L688.62 74.87L689.12 74.81L689.63 74.75L690.14 74.70L690.65 74.64L691.16 74.59L691.67 74.53L692.18 74.48L692.69 74.43L693.19 74.37L693.70 74.32L694.21 74.27L694.72 74.22L695.23 74.17L695.74 74.12L696.25 74.07L696.75 74.02L697.26 73.98L697.77 73.93L698.28 73.88L698.79 73.84L698.79 73.84L699.30 78.79L699.81 83.68L700.32 88.50L700.82 93.26L701.33 97.96L701.84 102.59L702.35 107.17L702.86 111.68L703.37 116.13L703.88 120.53L704.38 124.86L704.89 129.14L705.40 133.36L705.91 137.52L706.42 141.63L706.93 145.69L707.44 149.69L707.94 153.64L708.45 157.53L708.96 161.38L709.47 165.17L709.98 168.91L710.49 172.61L711.00 176.25L711.50 179.85L712.01 183.40L712.52 186.90L713.03 190.35L713.54 193.76L714.05 197.12L714.56 200.44L715.06 203.72L715.57 206.95L716.08 210.14L716.59 213.28L717.10 216.39L717.61 219.45L718.12 222.48L718.62 225.46L719.13 228.40L719.64 231.31L720.15 234.17L720.66 237.00L721.17 239.79L721.68 242.54L722.19 245.26L722.69 247.94L723.20 250.59L723.71 253.20L724.22 255.77L724.73 258.31L725.24 260.82L725.75 263.29L726.25 265.73L726.76 268.14L727.27 270.52L727.78 272.87L728.29 275.18L728.80 277.46L729.31 279.72L729.81 281.94L730.32 284.14L730.83 286.30L731.34 288.44L731.85 290.55L732.36 292.63L732.87 294.68L733.37 296.70L733.88 298.70L734.39 300.67L734.90 302.62L735.41 304.54L735.92 306.43L736.43 308.30L736.93 310.15L737.44 311.97L737.95 313.76L738.46 315.53L738.97 317.28L739.48 319.01L739.99 320.71L740.49 322.39L741.00 324.05L741.51 325.68L742.02 327.30L742.53 328.89L743.04 330.46L743.55 332.01L744.05 333.54L744.56 335.05L745.07 336.54L745.58 338.01L746.09 339.46L746.60 340.89L747.11 342.30L747.62 343.70L748.12 345.07L748.63 346.43L749.14 347.77L749.65 349.09L750.16 350.39L750.67 351.68L751.18 352.95L751.68 354.20L752.19 355.44L752.70 356.66L753.21 357.86L753.72 359.05L754.23 360.22L754.74 361.37L755.24 362.51L755.75 363.64L756.26 364.75L756.77 365.85L757.28 366.93L757.79 367.99L758.30 369.05L758.80 370.08L759.31 371.11L759.82 372.12L760.33 373.12L760.84 374.10L761.35 375.08L761.86 376.03L762.36 376.98L762.87 377.91L763.38 378.84L763.89 379.74L764.40 380.64L764.91 381.53L765.42 382.40L765.92 383.26L766.43 384.11L766.94 384.95L767.45 385.78L767.96 386.59L768.47 387.40L768.98 388.20L769.48 388.98L769.99 389.75L770.50 390.52L771.01 391.27L771.52 392.02L772.03 392.75L772.54 393.48L773.04 394.19L773.55 394.90L774.06 395.59L774.57 396.28L775.08 396.96L775.59 397.62L776.10 398.28L776.61 398.93L777.11 399.58L777.62 400.21L778.13 400.84L778.64 401.45L779.15 402.06L779.66 402.66L780.17 403.26L780.67 403.84L781.18 404.42L781.69 404.99L782.20 405.55L782.71 406.10L783.22 406.65L783.73 407.19L784.23 407.72L784.74 408.25L785.25 408.77L785.76 409.28L786.27 409.79L786.78 410.28L787.29 410.78L787.79 411.26L788.30 411.74L788.81 412.21L789.32 412.68L789.83 413.14L790.34 413.59L790.85 414.04L791.35 414.48L791.86 414.92L792.37 415.35L792.88 415.77L793.39 416.19L793.90 416.61L794.41 417.01L794.91 417.42L795.42 417.81L795.93 418.21L796.44 418.59L796.95 418.97L797.46 419.35L797.97 419.72L798.47 420.09L798.98 420.45L799.49 420.81L800.00 421.16L800.51 421.51L801.02 421.85L801.53 422.19L802.04 422.52L802.54 422.85L803.05 423.18L803.56 423.50L804.07 423.81L804.58 424.13L805.09 424.43L805.60 424.74L806.10 425.04L806.61 425.34L807.12 425.63L807.63 425.92L808.14 426.20L808.65 426.48L809.16 426.76L809.66 427.03L810.17 427.30L810.68 427.57L811.19 427.83L811.70 428.09L812.21 428.34L812.72 428.60L813.22 428.85L813.73 429.09L814.24 429.33L814.75 429.57L815.26 429.81L815.77 430.04L816.28 430.27L816.78 430.50L817.29 430.72L817.80 430.94L818.31 431.16L818.82 431.37L819.33 431.59L819.84 431.80L820.34 432.00L820.85 432.21L821.36 432.41L821.87 432.61L822.38 432.80L822.89 432.99L823.40 433.19L823.90 433.37L824.41 433.56L824.92 433.74L825.43 433.92L825.94 434.10L826.45 434.28L826.96 434.45L827.46 434.62L827.97 434.79L828.48 434.96L828.99 435.12L829.50 435.28L830.01 435.44L830.52 435.60L831.03 435.76L831.53 435.91L832.04 436.06L832.55 436.21L833.06 436.36L833.57 436.51L834.08 436.65L834.59 436.79L835.09 436.93L835.60 437.07L836.11 437.21L836.62 437.34L837.13 437.48L837.64 437.61L838.15 437.74L838.65 437.86L839.16 437.99L839.67 438.11L840.18 438.24L840.69 438.36L841.20 438.48L841.71 438.60L842.21 438.71L842.72 438.83L843.23 438.94L843.74 439.05L844.25 439.16L844.76 439.27L845.27 439.38L845.77 439.48L846.28 439.59L846.79 439.69L847.30 439.79L847.81 439.89L848.32 439.99L848.83 440.09L849.33 440.19L849.84 440.28L850.35 440.38L850.86 440.47L851.37 440.56L851.88 440.65L852.39 440.74L852.89 440.83L853.40 440.91L853.91 441.00L854.42 441.08L854.93 441.17L855.44 441.25L855.95 441.33L856.46 441.41L856.96 441.49L857.47 441.57L857.98 441.64L858.49 441.72L859.00 441.79L859.51 441.87L860.02 441.94L860.52 442.01L861.03 442.08L861.54 442.15L862.05 442.22L862.56 442.29L863.07 442.36L863.58 442.43L864.08 442.49L864.59 442.56L865.10 442.62L865.61 442.68L866.12 442.74L866.63 442.81L867.14 442.87L867.64 442.93L868.15 442.98L868.66 443.04L869.17 443.10L869.68 443.16L870.19 443.21L870.70 443.27L871.20 443.32L871.71 443.37L872.22 443.43L872.73 443.48L873.24 443.53L873.75 443.58L874.26 443.63L874.76 443.68L875.27 443.73L875.78 443.78L876.29 443.83L876.80 443.87L877.31 443.92L877.82 443.97L878.32 444.01L878.83 444.05L879.34 444.10L879.85 444.14L880.36 444.18L880.87 444.23L881.38 444.27L881.89 444.31L882.39 444.35L882.90 444.39L883.41 444.43L883.92 444.47L884.43 444.51L884.94 444.54L885.45 444.58L885.95 444.62L886.46 444.66L886.97 444.69L887.48 444.73L887.99 444.76L888.50 444.80L889.01 444.83L889.51 444.86L890.02 444.90L890.53 444.93L891.04 444.96L891.55 444.99L892.06 445.03L892.57 445.06L893.07 445.09L893.58 445.12L894.09 445.15L894.60 445.18" stroke="#D95319" stroke-width="3.30" stroke-dasharray="13 12.5" stroke-dashoffset="0"/>
<path d="M94.70 462.24L95.21 461.79L95.72 461.34L96.23 460.89L96.73 460.44L97.24 459.99L97.75 459.54L98.26 459.09L98.77 458.64L99.28 458.19L99.79 457.75L100.29 457.30L100.80 456.85L101.31 456.41L101.82 455.96L102.33 455.52L102.84 455.07L103.34 454.63L103.85 454.19L104.36 453.74L104.87 453.30L105.38 452.86L105.89 452.42L106.40 451.98L106.90 451.54L107.41 451.10L107.92 450.66L108.43 450.22L108.94 449.79L109.45 449.35L109.96 448.91L110.46 448.47L110.97 448.04L111.48 447.60L111.99 447.17L112.50 446.73L113.01 446.30L113.51 445.87L114.02 445.43L114.53 445.00L115.04 444.57L115.55 444.14L116.06 443.71L116.57 443.28L117.07 442.85L117.58 442.42L118.09 441.99L118.60 441.56L119.11 441.13L119.62 440.71L120.13 440.28L120.63 439.85L121.14 439.43L121.65 439.00L122.16 438.58L122.67 438.15L123.18 437.73L123.69 437.30L124.19 436.88L124.70 436.46L125.21 436.04L125.72 435.62L126.23 435.20L126.74 434.77L127.24 434.35L127.75 433.94L128.26 433.52L128.77 433.10L129.28 432.68L129.79 432.26L130.30 431.84L130.80 431.43L131.31 431.01L131.82 430.60L132.33 430.18L132.84 429.77L133.35 429.35L133.86 428.94L134.36 428.53L134.87 428.11L135.38 427.70L135.89 427.29L136.40 426.88L136.91 426.47L137.42 426.06L137.92 425.65L138.43 425.24L138.94 424.83L139.45 424.42L139.96 424.01L140.47 423.60L140.97 423.20L141.48 422.79L141.99 422.38L142.50 421.98L143.01 421.57L143.52 421.17L144.03 420.76L144.53 420.36L145.04 419.96L145.55 419.55L146.06 419.15L146.57 418.75L147.08 418.35L147.59 417.95L148.09 417.55L148.60 417.15L149.11 416.75L149.62 416.35L150.13 415.95L150.64 415.55L151.14 415.15L151.65 414.76L152.16 414.36L152.67 413.96L153.18 413.57L153.69 413.17L154.20 412.78L154.70 412.38L155.21 411.99L155.72 411.59L156.23 411.20L156.74 410.81L157.25 410.42L157.76 410.02L158.26 409.63L158.77 409.24L159.28 408.85L159.79 408.46L160.30 408.07L160.81 407.68L161.32 407.29L161.82 406.91L162.33 406.52L162.84 406.13L163.35 405.74L163.86 405.36L164.37 404.97L164.87 404.59L165.38 404.20L165.89 403.82L166.40 403.43L166.91 403.05L167.42 402.66L167.93 402.28L168.43 401.90L168.94 401.52L169.45 401.14L169.96 400.75L170.47 400.37L170.98 399.99L171.49 399.61L171.99 399.23L172.50 398.86L173.01 398.48L173.52 398.10L174.03 397.72L174.54 397.34L175.04 396.97L175.55 396.59L176.06 396.22L176.57 395.84L177.08 395.47L177.59 395.09L178.10 394.72L178.60 394.34L179.11 393.97L179.62 393.60L180.13 393.22L180.64 392.85L181.15 392.48L181.66 392.11L182.16 391.74L182.67 391.37L183.18 391.00L183.69 390.63L184.20 390.26L184.71 389.89L185.22 389.52L185.72 389.16L186.23 388.79L186.74 388.42L187.25 388.06L187.76 387.69L188.27 387.33L188.77 386.96L189.28 386.60L189.79 386.23L190.30 385.87L190.81 385.50L191.32 385.14L191.83 384.78L192.33 384.42L192.84 384.05L193.35 383.69L193.86 383.33L194.37 382.97L194.88 382.61L195.39 382.25L195.89 381.89L196.40 381.53L196.91 381.18L197.42 380.82L197.93 380.46L198.44 380.10L198.95 379.75L199.45 379.39L199.96 379.03L200.47 378.68L200.98 378.32L201.49 377.97L202.00 377.61L202.50 377.26L203.01 376.91L203.52 376.55L204.03 376.20L204.54 375.85L205.05 375.50L205.56 375.15L206.06 374.79L206.57 374.44L207.08 374.09L207.59 373.74L208.10 373.39L208.61 373.05L209.12 372.70L209.62 372.35L210.13 372.00L210.64 371.65L211.15 371.31L211.66 370.96L212.17 370.61L212.67 370.27L213.18 369.92L213.69 369.58L214.20 369.23L214.71 368.89L215.22 368.55L215.73 368.20L216.23 367.86L216.74 367.52L217.25 367.17L217.76 366.83L218.27 366.49L218.78 366.15L219.29 365.81L219.79 365.47L220.30 365.13L220.81 364.79L221.32 364.45L221.83 364.11L222.34 363.77L222.85 363.44L223.35 363.10L223.86 362.76L224.37 362.42L224.88 362.09L225.39 361.75L225.90 361.42L226.40 361.08L226.91 360.75L227.42 360.41L227.93 360.08L228.44 359.74L228.95 359.41L229.46 359.08L229.96 358.75L230.47 358.41L230.98 358.08L231.49 357.75L232.00 357.42L232.51 357.09L233.02 356.76L233.52 356.43L234.03 356.10L234.54 355.77L235.05 355.44L235.56 355.11L236.07 354.79L236.58 354.46L237.08 354.13L237.59 353.81L238.10 353.48L238.61 353.15L239.12 352.83L239.63 352.50L240.13 352.18L240.64 351.85L241.15 351.53L241.66 351.21L242.17 350.88L242.68 350.56L243.19 350.24L243.69 349.91L244.20 349.59L244.71 349.27L245.22 348.95L245.73 348.63L246.24 348.31L246.75 347.99L247.25 347.67L247.76 347.35L248.27 347.03L248.78 346.71L249.29 346.39L249.80 346.08L250.30 345.76L250.81 345.44L251.32 345.13L251.83 344.81L252.34 344.49L252.85 344.18L253.36 343.86L253.86 343.55L254.37 343.23L254.88 342.92L255.39 342.61L255.90 342.29L256.41 341.98L256.92 341.67L257.42 341.35L257.93 341.04L258.44 340.73L258.95 340.42L259.46 340.11L259.97 339.80L260.48 339.49L260.98 339.18L261.49 338.87L262.00 338.56L262.51 338.25L263.02 337.94L263.53 337.64L264.03 337.33L264.54 337.02L265.05 336.71L265.56 336.41L266.07 336.10L266.58 335.79L267.09 335.49L267.59 335.18L268.10 334.88L268.61 334.57L269.12 334.27L269.63 333.97L270.14 333.66L270.65 333.36L271.15 333.06L271.66 332.76L272.17 332.45L272.68 332.15L273.19 331.85L273.70 331.55L274.20 331.25L274.71 330.95L275.22 330.65L275.73 330.35L276.24 330.05L276.75 329.75L277.26 329.45L277.76 329.15L278.27 328.86L278.78 328.56L279.29 328.26L279.80 327.97L280.31 327.67L280.82 327.37L281.32 327.08L281.83 326.78L282.34 326.49L282.85 326.19L283.36 325.90L283.87 325.60L284.38 325.31L284.88 325.02L285.39 324.72L285.90 324.43L286.41 324.14L286.92 323.85L287.43 323.55L287.93 323.26L288.44 322.97L288.95 322.68L289.46 322.39L289.97 322.10L290.48 321.81L290.99 321.52L291.49 321.23L292.00 320.94L292.51 320.66L293.02 320.37L293.53 320.08L294.04 319.79L294.55 319.51L295.05 319.22L295.56 318.93L296.07 318.65L296.58 318.36L296.58 318.36L297.09 318.53L297.60 318.71L298.10 318.88L298.61 319.05L299.12 319.22L299.63 319.39L300.14 319.56L300.65 319.73L301.15 319.90L301.66 320.07L302.17 320.24L302.68 320.41L303.19 320.58L303.70 320.75L304.20 320.92L304.71 321.08L305.22 321.25L305.73 321.42L306.24 321.59L306.74 321.76L307.25 321.92L307.76 322.09L308.27 322.26L308.78 322.43L309.29 322.59L309.79 322.76L310.30 322.92L310.81 323.09L311.32 323.26L311.83 323.42L312.34 323.59L312.84 323.75L313.35 323.92L313.86 324.08L314.37 324.24L314.88 324.41L315.39 324.57L315.89 324.74L316.40 324.90L316.91 325.06L317.42 325.23L317.93 325.39L318.43 325.55L318.94 325.71L319.45 325.88L319.96 326.04L320.47 326.20L320.98 326.36L321.48 326.52L321.99 326.68L322.50 326.85L323.01 327.01L323.52 327.17L324.03 327.33L324.53 327.49L325.04 327.65L325.55 327.81L326.06 327.97L326.57 328.13L327.07 328.28L327.58 328.44L328.09 328.60L328.60 328.76L329.11 328.92L329.62 329.08L330.12 329.23L330.63 329.39L331.14 329.55L331.65 329.71L332.16 329.86L332.67 330.02L333.17 330.18L333.68 330.33L334.19 330.49L334.70 330.64L335.21 330.80L335.72 330.96L336.22 331.11L336.73 331.27L337.24 331.42L337.75 331.58L338.26 331.73L338.76 331.88L339.27 332.04L339.78 332.19L340.29 332.35L340.80 332.50L341.31 332.65L341.81 332.81L342.32 332.96L342.83 333.11L343.34 333.26L343.85 333.42L344.36 333.57L344.86 333.72L345.37 333.87L345.88 334.02L346.39 334.17L346.90 334.33L347.41 334.48L347.91 334.63L348.42 334.78L348.93 334.93L349.44 335.08L349.95 335.23L350.45 335.38L350.96 335.53L351.47 335.68L351.98 335.83L352.49 335.97L353.00 336.12L353.50 336.27L354.01 336.42L354.52 336.57L355.03 336.72L355.54 336.86L356.05 337.01L356.55 337.16L357.06 337.31L357.57 337.45L358.08 337.60L358.59 337.75L359.10 337.89L359.60 338.04L360.11 338.18L360.62 338.33L361.13 338.48L361.64 338.62L362.14 338.77L362.65 338.91L363.16 339.06L363.67 339.20L364.18 339.35L364.69 339.49L365.19 339.63L365.70 339.78L366.21 339.92L366.72 340.06L367.23 340.21L367.74 340.35L368.24 340.49L368.75 340.64L369.26 340.78L369.77 340.92L370.28 341.06L370.79 341.21L371.29 341.35L371.80 341.49L372.31 341.63L372.82 341.77L373.33 341.91L373.83 342.05L374.34 342.19L374.85 342.34L375.36 342.48L375.87 342.62L376.38 342.76L376.88 342.90L377.39 343.04L377.90 343.17L378.41 343.31L378.92 343.45L379.43 343.59L379.93 343.73L380.44 343.87L380.95 344.01L381.46 344.15L381.97 344.28L382.48 344.42L382.98 344.56L383.49 344.70L384.00 344.83L384.51 344.97L385.02 345.11L385.52 345.24L386.03 345.38L386.54 345.52L387.05 345.65L387.56 345.79L388.07 345.92L388.57 346.06L389.08 346.20L389.59 346.33L390.10 346.47L390.61 346.60L391.12 346.74L391.62 346.87L392.13 347.00L392.64 347.14L393.15 347.27L393.66 347.41L394.17 347.54L394.67 347.67L395.18 347.81L395.69 347.94L396.20 348.07L396.71 348.21L397.21 348.34L397.72 348.47L398.23 348.60L398.74 348.74L399.25 348.87L399.76 349.00L400.26 349.13L400.77 349.26L401.28 349.39L401.79 349.52L402.30 349.65L402.81 349.79L403.31 349.92L403.82 350.05L404.33 350.18L404.84 350.31L405.35 350.44L405.85 350.57L406.36 350.70L406.87 350.82L407.38 350.95L407.89 351.08L408.40 351.21L408.90 351.34L409.41 351.47L409.92 351.60L410.43 351.73L410.94 351.85L411.45 351.98L411.95 352.11L412.46 352.24L412.97 352.36L413.48 352.49L413.99 352.62L414.50 352.74L415.00 352.87L415.51 353.00L416.02 353.12L416.53 353.25L417.04 353.38L417.54 353.50L418.05 353.63L418.56 353.75L419.07 353.88L419.58 354.00L420.09 354.13L420.59 354.25L421.10 354.38L421.61 354.50L422.12 354.63L422.63 354.75L423.14 354.87L423.64 355.00L424.15 355.12L424.66 355.25L425.17 355.37L425.68 355.49L426.19 355.62L426.69 355.74L427.20 355.86L427.71 355.98L428.22 356.11L428.73 356.23L429.23 356.35L429.74 356.47L430.25 356.59L430.76 356.72L431.27 356.84L431.78 356.96L432.28 357.08L432.79 357.20L433.30 357.32L433.81 357.44L434.32 357.56L434.83 357.68L435.33 357.80L435.84 357.92L436.35 358.04L436.86 358.16L437.37 358.28L437.88 358.40L438.38 358.52L438.89 358.64L439.40 358.76L439.91 358.88L440.42 358.99L440.92 359.11L441.43 359.23L441.94 359.35L442.45 359.47L442.96 359.59L443.47 359.70L443.97 359.82L444.48 359.94L444.99 360.05L445.50 360.17L446.01 360.29L446.52 360.41L447.02 360.52L447.53 360.64L448.04 360.75L448.55 360.87L449.06 360.99L449.57 361.10L450.07 361.22L450.58 361.33L451.09 361.45L451.60 361.56L452.11 361.68L452.61 361.79L453.12 361.91L453.63 362.02L454.14 362.14L454.65 362.25L455.16 362.37L455.66 362.48L456.17 362.59L456.68 362.71L457.19 362.82L457.70 362.93L458.21 363.05L458.71 363.16L459.22 363.27L459.73 363.39L460.24 363.50L460.75 363.61L461.26 363.72L461.76 363.84L462.27 363.95L462.78 364.06L463.29 364.17L463.80 364.28L464.30 364.39L464.81 364.51L465.32 364.62L465.83 364.73L466.34 364.84L466.85 364.95L467.35 365.06L467.86 365.17L468.37 365.28L468.88 365.39L469.39 365.50L469.90 365.61L470.40 365.72L470.91 365.83L471.42 365.94L471.93 366.05L472.44 366.16L472.94 366.27L473.45 366.38L473.96 366.48L474.47 366.59L474.98 366.70L475.49 366.81L475.99 366.92L476.50 367.03L477.01 367.13L477.52 367.24L478.03 367.35L478.54 367.46L479.04 367.56L479.55 367.67L480.06 367.78L480.57 367.88L481.08 367.99L481.59 368.10L482.09 368.20L482.60 368.31L483.11 368.42L483.62 368.52L484.13 368.63L484.63 368.73L485.14 368.84L485.65 368.95L486.16 369.05L486.67 369.16L487.18 369.26L487.68 369.37L488.19 369.47L488.70 369.58L489.21 369.68L489.72 369.78L490.23 369.89L490.73 369.99L491.24 370.10L491.75 370.20L492.26 370.30L492.77 370.41L493.28 370.51L493.78 370.61L494.29 370.72L494.80 370.82L495.31 370.92L495.82 371.03L496.32 371.13L496.83 371.23L497.34 371.33L497.85 371.43L497.85 371.43L498.36 371.09L498.87 370.74L499.38 370.39L499.89 370.05L500.39 369.70L500.90 369.36L501.41 369.01L501.92 368.67L502.43 368.33L502.94 367.98L503.45 367.64L503.96 367.30L504.47 366.95L504.98 366.61L505.48 366.27L505.99 365.93L506.50 365.59L507.01 365.25L507.52 364.91L508.03 364.57L508.54 364.23L509.05 363.89L509.56 363.55L510.07 363.21L510.58 362.88L511.08 362.54L511.59 362.20L512.10 361.87L512.61 361.53L513.12 361.20L513.63 360.86L514.14 360.53L514.65 360.19L515.16 359.86L515.67 359.52L516.17 359.19L516.68 358.86L517.19 358.52L517.70 358.19L518.21 357.86L518.72 357.53L519.23 357.20L519.74 356.87L520.25 356.54L520.76 356.21L521.26 355.88L521.77 355.55L522.28 355.22L522.79 354.89L523.30 354.56L523.81 354.24L524.32 353.91L524.83 353.58L525.34 353.26L525.85 352.93L526.35 352.60L526.86 352.28L527.37 351.95L527.88 351.63L528.39 351.31L528.90 350.98L529.41 350.66L529.92 350.34L530.43 350.01L530.94 349.69L531.45 349.37L531.95 349.05L532.46 348.73L532.97 348.41L533.48 348.09L533.99 347.77L534.50 347.45L535.01 347.13L535.52 346.81L536.03 346.49L536.54 346.17L537.04 345.85L537.55 345.54L538.06 345.22L538.57 344.90L539.08 344.58L539.59 344.27L540.10 343.95L540.61 343.64L541.12 343.32L541.63 343.01L542.13 342.69L542.64 342.38L543.15 342.07L543.66 341.75L544.17 341.44L544.68 341.13L545.19 340.82L545.70 340.51L546.21 340.19L546.72 339.88L547.22 339.57L547.73 339.26L548.24 338.95L548.75 338.64L549.26 338.33L549.77 338.03L550.28 337.72L550.79 337.41L551.30 337.10L551.81 336.79L552.32 336.49L552.82 336.18L553.33 335.87L553.84 335.57L554.35 335.26L554.86 334.96L555.37 334.65L555.88 334.35L556.39 334.04L556.90 333.74L557.41 333.44L557.91 333.13L558.42 332.83L558.93 332.53L559.44 332.23L559.95 331.93L560.46 331.62L560.97 331.32L561.48 331.02L561.99 330.72L562.50 330.42L563.00 330.12L563.51 329.82L564.02 329.52L564.53 329.23L565.04 328.93L565.55 328.63L566.06 328.33L566.57 328.04L567.08 327.74L567.59 327.44L568.09 327.15L568.60 326.85L569.11 326.55L569.62 326.26L570.13 325.96L570.64 325.67L571.15 325.38L571.66 325.08L572.17 324.79L572.68 324.50L573.19 324.20L573.69 323.91L574.20 323.62L574.71 323.33L575.22 323.04L575.73 322.74L576.24 322.45L576.75 322.16L577.26 321.87L577.77 321.58L578.28 321.29L578.78 321.01L579.29 320.72L579.80 320.43L580.31 320.14L580.82 319.85L581.33 319.57L581.84 319.28L582.35 318.99L582.86 318.71L583.37 318.42L583.87 318.13L584.38 317.85L584.89 317.56L585.40 317.28L585.91 316.99L586.42 316.71L586.93 316.43L587.44 316.14L587.95 315.86L588.46 315.58L588.96 315.29L589.47 315.01L589.98 314.73L590.49 314.45L591.00 314.17L591.51 313.89L592.02 313.61L592.53 313.33L593.04 313.05L593.55 312.77L594.06 312.49L594.56 312.21L595.07 311.93L595.58 311.65L596.09 311.38L596.60 311.10L597.11 310.82L597.62 310.54L598.13 310.27L598.64 309.99L599.15 309.72L599.65 309.44L600.16 309.16L600.67 308.89L601.18 308.61L601.69 308.34L602.20 308.07L602.71 307.79L603.22 307.52L603.73 307.25L604.24 306.97L604.74 306.70L605.25 306.43L605.76 306.16L606.27 305.89L606.78 305.61L607.29 305.34L607.80 305.07L608.31 304.80L608.82 304.53L609.33 304.26L609.83 303.99L610.34 303.73L610.85 303.46L611.36 303.19L611.87 302.92L612.38 302.65L612.89 302.38L613.40 302.12L613.91 301.85L614.42 301.58L614.93 301.32L615.43 301.05L615.94 300.79L616.45 300.52L616.96 300.26L617.47 299.99L617.98 299.73L618.49 299.46L619.00 299.20L619.51 298.94L620.02 298.67L620.52 298.41L621.03 298.15L621.54 297.89L622.05 297.62L622.56 297.36L623.07 297.10L623.58 296.84L624.09 296.58L624.60 296.32L625.11 296.06L625.61 295.80L626.12 295.54L626.63 295.28L627.14 295.02L627.65 294.76L628.16 294.50L628.67 294.25L629.18 293.99L629.69 293.73L630.20 293.47L630.70 293.22L631.21 292.96L631.72 292.70L632.23 292.45L632.74 292.19L633.25 291.94L633.76 291.68L634.27 291.43L634.78 291.17L635.29 290.92L635.80 290.67L636.30 290.41L636.81 290.16L637.32 289.91L637.83 289.65L638.34 289.40L638.85 289.15L639.36 288.90L639.87 288.65L640.38 288.39L640.89 288.14L641.39 287.89L641.90 287.64L642.41 287.39L642.92 287.14L643.43 286.89L643.94 286.64L644.45 286.40L644.96 286.15L645.47 285.90L645.98 285.65L646.48 285.40L646.99 285.16L647.50 284.91L648.01 284.66L648.52 284.41L649.03 284.17L649.54 283.92L650.05 283.68L650.56 283.43L651.07 283.19L651.57 282.94L652.08 282.70L652.59 282.45L653.10 282.21L653.61 281.96L654.12 281.72L654.63 281.48L655.14 281.23L655.65 280.99L656.16 280.75L656.67 280.51L657.17 280.27L657.68 280.02L658.19 279.78L658.70 279.54L659.21 279.30L659.72 279.06L660.23 278.82L660.74 278.58L661.25 278.34L661.76 278.10L662.26 277.86L662.77 277.62L663.28 277.39L663.79 277.15L664.30 276.91L664.81 276.67L665.32 276.44L665.83 276.20L666.34 275.96L666.85 275.72L667.35 275.49L667.86 275.25L668.37 275.02L668.88 274.78L669.39 274.55L669.90 274.31L670.41 274.08L670.92 273.84L671.43 273.61L671.94 273.37L672.44 273.14L672.95 272.91L673.46 272.67L673.97 272.44L674.48 272.21L674.99 271.98L675.50 271.75L676.01 271.51L676.52 271.28L677.03 271.05L677.54 270.82L678.04 270.59L678.55 270.36L679.06 270.13L679.57 269.90L680.08 269.67L680.59 269.44L681.10 269.21L681.61 268.98L682.12 268.76L682.63 268.53L683.13 268.30L683.64 268.07L684.15 267.84L684.66 267.62L685.17 267.39L685.68 267.16L686.19 266.94L686.70 266.71L687.21 266.49L687.72 266.26L688.22 266.03L688.73 265.81L689.24 265.58L689.75 265.36L690.26 265.14L690.77 264.91L691.28 264.69L691.79 264.46L692.30 264.24L692.81 264.02L693.31 263.80L693.82 263.57L694.33 263.35L694.84 263.13L695.35 262.91L695.86 262.69L696.37 262.47L696.88 262.24L697.39 262.02L697.90 261.80L698.41 261.58L698.91 261.36L699.42 261.14L699.93 260.92L699.93 260.92L700.44 261.17L700.95 261.42L701.46 261.67L701.97 261.91L702.47 262.16L702.98 262.40L703.49 262.65L704.00 262.90L704.51 263.14L705.01 263.38L705.52 263.63L706.03 263.87L706.54 264.12L707.05 264.36L707.56 264.60L708.06 264.85L708.57 265.09L709.08 265.33L709.59 265.57L710.10 265.81L710.61 266.05L711.11 266.29L711.62 266.53L712.13 266.77L712.64 267.01L713.15 267.25L713.66 267.49L714.16 267.73L714.67 267.97L715.18 268.21L715.69 268.45L716.20 268.68L716.71 268.92L717.21 269.16L717.72 269.39L718.23 269.63L718.74 269.87L719.25 270.10L719.75 270.34L720.26 270.57L720.77 270.81L721.28 271.04L721.79 271.28L722.30 271.51L722.80 271.74L723.31 271.98L723.82 272.21L724.33 272.44L724.84 272.68L725.35 272.91L725.85 273.14L726.36 273.37L726.87 273.60L727.38 273.83L727.89 274.06L728.40 274.29L728.90 274.52L729.41 274.75L729.92 274.98L730.43 275.21L730.94 275.44L731.45 275.67L731.95 275.90L732.46 276.12L732.97 276.35L733.48 276.58L733.99 276.80L734.49 277.03L735.00 277.26L735.51 277.48L736.02 277.71L736.53 277.93L737.04 278.16L737.54 278.38L738.05 278.61L738.56 278.83L739.07 279.06L739.58 279.28L740.09 279.50L740.59 279.73L741.10 279.95L741.61 280.17L742.12 280.39L742.63 280.62L743.14 280.84L743.64 281.06L744.15 281.28L744.66 281.50L745.17 281.72L745.68 281.94L746.18 282.16L746.69 282.38L747.20 282.60L747.71 282.82L748.22 283.04L748.73 283.26L749.23 283.47L749.74 283.69L750.25 283.91L750.76 284.13L751.27 284.34L751.78 284.56L752.28 284.78L752.79 284.99L753.30 285.21L753.81 285.42L754.32 285.64L754.83 285.85L755.33 286.07L755.84 286.28L756.35 286.50L756.86 286.71L757.37 286.92L757.88 287.14L758.38 287.35L758.89 287.56L759.40 287.78L759.91 287.99L760.42 288.20L760.92 288.41L761.43 288.62L761.94 288.83L762.45 289.04L762.96 289.25L763.47 289.46L763.97 289.67L764.48 289.88L764.99 290.09L765.50 290.30L766.01 290.51L766.52 290.72L767.02 290.93L767.53 291.14L768.04 291.34L768.55 291.55L769.06 291.76L769.57 291.97L770.07 292.17L770.58 292.38L771.09 292.58L771.60 292.79L772.11 293.00L772.62 293.20L773.12 293.41L773.63 293.61L774.14 293.82L774.65 294.02L775.16 294.22L775.66 294.43L776.17 294.63L776.68 294.83L777.19 295.04L777.70 295.24L778.21 295.44L778.71 295.64L779.22 295.84L779.73 296.05L780.24 296.25L780.75 296.45L781.26 296.65L781.76 296.85L782.27 297.05L782.78 297.25L783.29 297.45L783.80 297.65L784.31 297.85L784.81 298.05L785.32 298.25L785.83 298.44L786.34 298.64L786.85 298.84L787.35 299.04L787.86 299.23L788.37 299.43L788.88 299.63L789.39 299.83L789.90 300.02L790.40 300.22L790.91 300.41L791.42 300.61L791.93 300.80L792.44 301.00L792.95 301.19L793.45 301.39L793.96 301.58L794.47 301.78L794.98 301.97L795.49 302.16L796.00 302.36L796.50 302.55L797.01 302.74L797.52 302.93L798.03 303.13L798.54 303.32L799.05 303.51L799.55 303.70L800.06 303.89L800.57 304.08L801.08 304.27L801.59 304.47L802.09 304.66L802.60 304.85L803.11 305.03L803.62 305.22L804.13 305.41L804.64 305.60L805.14 305.79L805.65 305.98L806.16 306.17L806.67 306.36L807.18 306.54L807.69 306.73L808.19 306.92L808.70 307.10L809.21 307.29L809.72 307.48L810.23 307.66L810.74 307.85L811.24 308.04L811.75 308.22L812.26 308.41L812.77 308.59L813.28 308.78L813.78 308.96L814.29 309.14L814.80 309.33L815.31 309.51L815.82 309.70L816.33 309.88L816.83 310.06L817.34 310.25L817.85 310.43L818.36 310.61L818.87 310.79L819.38 310.97L819.88 311.16L820.39 311.34L820.90 311.52L821.41 311.70L821.92 311.88L822.43 312.06L822.93 312.24L823.44 312.42L823.95 312.60L824.46 312.78L824.97 312.96L825.48 313.14L825.98 313.32L826.49 313.49L827.00 313.67L827.51 313.85L828.02 314.03L828.52 314.21L829.03 314.38L829.54 314.56L830.05 314.74L830.56 314.91L831.07 315.09L831.57 315.27L832.08 315.44L832.59 315.62L833.10 315.79L833.61 315.97L834.12 316.14L834.62 316.32L835.13 316.49L835.64 316.67L836.15 316.84L836.66 317.02L837.17 317.19L837.67 317.36L838.18 317.54L838.69 317.71L839.20 317.88L839.71 318.05L840.22 318.23L840.72 318.40L841.23 318.57L841.74 318.74L842.25 318.91L842.76 319.09L843.26 319.26L843.77 319.43L844.28 319.60L844.79 319.77L845.30 319.94L845.81 320.11L846.31 320.28L846.82 320.45L847.33 320.62L847.84 320.78L848.35 320.95L848.86 321.12L849.36 321.29L849.87 321.46L850.38 321.63L850.89 321.79L851.40 321.96L851.91 322.13L852.41 322.29L852.92 322.46L853.43 322.63L853.94 322.79L854.45 322.96L854.95 323.13L855.46 323.29L855.97 323.46L856.48 323.62L856.99 323.79L857.50 323.95L858.00 324.12L858.51 324.28L859.02 324.44L859.53 324.61L860.04 324.77L860.55 324.94L861.05 325.10L861.56 325.26L862.07 325.42L862.58 325.59L863.09 325.75L863.60 325.91L864.10 326.07L864.61 326.24L865.12 326.40L865.63 326.56L866.14 326.72L866.65 326.88L867.15 327.04L867.66 327.20L868.17 327.36L868.68 327.52L869.19 327.68L869.69 327.84L870.20 328.00L870.71 328.16L871.22 328.32L871.73 328.48L872.24 328.64L872.74 328.79L873.25 328.95L873.76 329.11L874.27 329.27L874.78 329.43L875.29 329.58L875.79 329.74L876.30 329.90L876.81 330.05L877.32 330.21L877.83 330.37L878.34 330.52L878.84 330.68L879.35 330.83L879.86 330.99L880.37 331.15L880.88 331.30L881.38 331.45L881.89 331.61L882.40 331.76L882.91 331.92L883.42 332.07L883.93 332.23L884.43 332.38L884.94 332.53L885.45 332.69L885.96 332.84L886.47 332.99L886.98 333.14L887.48 333.30L887.99 333.45L888.50 333.60L889.01 333.75L889.52 333.91L890.03 334.06L890.53 334.21L891.04 334.36L891.55 334.51L892.06 334.66L892.57 334.81L893.08 334.96L893.58 335.11L894.09 335.26L894.60 335.41" stroke="#EDB120" stroke-width="3.50" stroke-dasharray="13 3.1 7.1 3.1" stroke-dashoffset="-3.2"/>
</g>
<path d="M94.40 25.26L295.95 25.26L296.61 497.54L497.22 497.54L497.88 25.26L699.30 25.26L699.96 497.54L894.30 497.54" fill="none" stroke="#000" stroke-width="3.10" stroke-linejoin="miter" clip-path="url(#c)"/>
<g font-size="31.30">
<text x="85.20" y="520.25" text-anchor="end">40</text>
<text x="85.20" y="458.26" text-anchor="end">45</text>
<text x="85.20" y="396.27" text-anchor="end">50</text>
<text x="85.20" y="334.29" text-anchor="end">55</text>
<text x="85.20" y="272.30" text-anchor="end">60</text>
<text x="85.20" y="210.31" text-anchor="end">65</text>
<text x="85.20" y="148.32" text-anchor="end">70</text>
<text x="85.20" y="86.34" text-anchor="end">75</text>
<text x="85.20" y="24.35" text-anchor="end">80</text>
<text x="904.30" y="508.44">-20</text>
<text x="904.30" y="449.41">-15</text>
<text x="904.30" y="390.37">-10</text>
<text x="904.30" y="331.34">-5</text>
<text x="904.30" y="272.30">0</text>
<text x="904.30" y="213.26">5</text>
<text x="904.30" y="154.23">10</text>
<text x="904.30" y="95.19">15</text>
<text x="904.30" y="36.16">20</text>
<text x="94.70" y="546.60" text-anchor="middle">0</text>
<text x="221.67" y="546.60" text-anchor="middle">5</text>
<text x="348.64" y="546.60" text-anchor="middle">10</text>
<text x="475.60" y="546.60" text-anchor="middle">15</text>
<text x="602.57" y="546.60" text-anchor="middle">20</text>
<text x="729.54" y="546.60" text-anchor="middle">25</text>
<text x="856.51" y="546.60" text-anchor="middle">30</text>
<text x="494.65" y="582.70" text-anchor="middle">Time (s)</text>
</g>
<text transform="translate(26.40 261.30) rotate(-90)" font-size="34.40" text-anchor="middle">I<tspan font-size="27.50" dy="16.50">syn</tspan><tspan dy="-16.50"> (nA)</tspan></text>
<text transform="translate(979.20 261.30) rotate(-90)" font-size="31.30" text-anchor="middle">V<tspan font-size="25.00" dy="14.80">in</tspan><tspan dy="-14.80"> (V)</tspan></text>
<rect x="540.50" y="27.40" width="339.10" height="164.40" fill="#fff" stroke="#262626" stroke-width="2.60"/>
<g fill="none">
<path d="M547.20 48.50H598.70" stroke="#0072BD" stroke-width="3.30"/>
<path d="M547.20 84.10H598.70" stroke="#D95319" stroke-width="3.30" stroke-dasharray="13.3 13.3"/>
<path d="M547.20 120.70H598.70" stroke="#EDB120" stroke-width="3.50" stroke-dasharray="13 3.3 6.7 3.3"/>
<path d="M547.20 163.10H598.70" stroke="#000" stroke-width="3.10"/>
</g>
<g font-size="31.00">
<text x="603.60" y="58.90" letter-spacing="-0.08">Model (Csyn=4.7 nF)</text>
<text x="603.60" y="94.20">Model (47 nF)</text>
<text x="603.60" y="130.50">Model (470 nF)</text>
<text x="603.60" y="167.10">Input (V<tspan font-size="25.00" dy="15.00">in</tspan><tspan dy="-15.00">)</tspan></text>
</g>
</svg></body></html>
